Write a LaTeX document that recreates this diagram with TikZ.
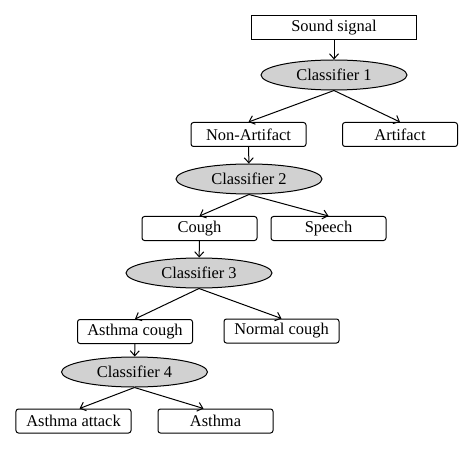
\documentclass[tikz,border=0pt]{standalone}
\usepackage{fontspec}
\setmainfont{Liberation Serif}
\usetikzlibrary{shapes.geometric,arrows.meta}
\begin{document}
\begin{tikzpicture}[x=1bp,y=-1bp,
    every node/.style={font=\fontsize{16.5}{18}\selectfont},
    box/.style={draw,rounded corners=2.5bp,minimum width=115bp,minimum height=24bp,inner sep=0},
    clf/.style={draw,ellipse,fill=black!18,minimum width=146bp,minimum height=30bp,inner sep=0},
    line width=1bp, >={Straight Barb[length=5bp,width=9bp]}]
    \useasboundingbox (0,0) rectangle (474,451);
    \node[draw,minimum width=165bp,minimum height=24bp,inner sep=0] (sig) at (334,28) {Sound signal};
    \foreach \name/\x/\y/\txt in {c1/334/75/Classifier 1, c2/249/179/Classifier 2,
        c3/199/273/Classifier 3, c4/134.5/372/Classifier 4} {
      \node[clf] (\name) at (\x,\y) {\txt};
    }
    \foreach \name/\x/\y/\txt in {na/248.5/134.5/Non-Artifact, art/400/134.5/Artifact,
        cough/199.5/228.5/Cough, speech/328.5/228.5/Speech,
        ac/135/331.5/Asthma cough, nc/281.5/331/Normal cough,
        aa/73.5/421/Asthma attack, asth/215.5/421/Asthma} {
      \node[box] (\name) at (\x,\y) {\txt};
    }
    \draw[->] (sig) -- (c1);
    \draw[->] (c1.south) -- (na.north);
    \draw[->] (c1.south) -- (art.north);
    \draw[->] (na) -- (c2);
    \draw[->] (c2.south) -- (cough.north);
    \draw[->] (c2.south) -- (speech.north);
    \draw[->] (cough) -- (c3);
    \draw[->] (c3.south) -- (ac.north);
    \draw[->] (c3.south) -- (nc.north);
    \draw[->] (ac) -- (c4);
    \draw[->] (c4.south) -- ([xshift=6bp]aa.north);
    \draw[->] (c4.south) -- ([xshift=-12bp]asth.north);
\end{tikzpicture}
\end{document}
